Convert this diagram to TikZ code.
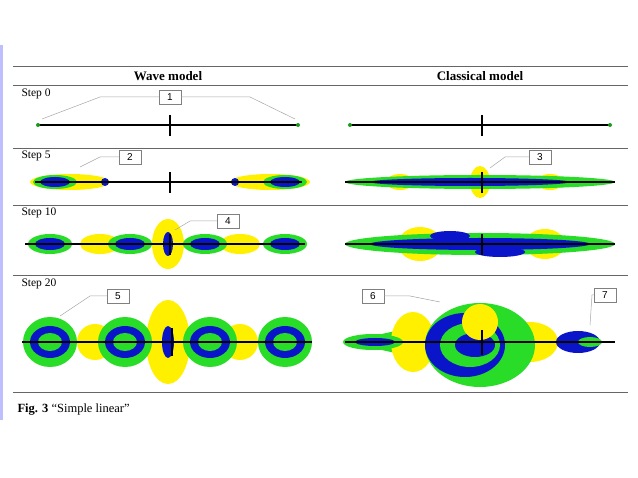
\documentclass[tikz,border=0pt]{standalone}
\usepackage{fontspec}
\setmainfont{Liberation Serif}
\newfontfamily\lab{Liberation Sans}
\definecolor{yel}{RGB}{255,240,0}
\definecolor{grn}{RGB}{40,220,40}
\definecolor{blu}{RGB}{10,20,200}
\begin{document}
\begin{tikzpicture}[x=1pt,y=-1pt,
  rule/.style={draw=black!60,line width=0.8pt},
  lbox/.style={draw=black!50,fill=white,inner sep=2pt,minimum width=22pt,minimum height=14pt,font=\lab\fontsize{10}{11}\selectfont},
  lead/.style={draw=black!35,line width=0.5pt},
  axis/.style={line width=1.2pt},
  stp/.style={anchor=west,font=\fontsize{11.5}{13}\selectfont},
  Y/.style={fill=yel},G/.style={fill=grn},B/.style={fill=blu}]
\useasboundingbox (0,0) rectangle (638,478);
\fill[blue!25] (0,45) rectangle (3,420);
\foreach \y in {66,85,148,205,275,392} \draw[rule] (13,\y) -- (628,\y);
\node[font=\bfseries\fontsize{13}{15}\selectfont] (hw) at (168,76) {Wave model};
\node[font=\bfseries\fontsize{13}{15}\selectfont] (hc) at (480,76) {Classical model};
\node[stp] (s0) at (18,94) {Step 0};
\node[stp] (s5) at (18,156) {Step 5};
\node[stp] (s10) at (18,213) {Step 10};
\node[stp] (s20) at (18,284) {Step 20};
\node[anchor=west,font=\fontsize{12.5}{14}\selectfont] (fig) at (14,410) {\textbf{Fig. 3} “Simple linear”};
% Step 0
\coordinate (a1) at (38,125); \coordinate (a2) at (298,125);
\coordinate (c1) at (350,125); \coordinate (c2) at (610,125);
\draw[axis] (a1) -- (a2); \draw[axis] (170,115) -- (170,136);
\draw[axis] (c1) -- (c2); \draw[axis] (482,115) -- (482,136);
\foreach \p in {a1,a2,c1,c2} \fill[grn!70!black] (\p) circle (2);
\node[lbox] (l1) at (170,97) {1};
\draw[lead] (l1.west) -- (100,97) -- (42,119);
\draw[lead] (l1.east) -- (250,97) -- (295,119);
% Step 5 wave
\fill[Y] (70,182) ellipse (40 and 8); \fill[Y] (270,182) ellipse (40 and 8);
\fill[G] (55,182) ellipse (22 and 7); \fill[G] (285,182) ellipse (22 and 7);
\fill[B] (55,182) ellipse (15 and 5); \fill[B] (285,182) ellipse (15 and 5);
\fill[B] (105,182) circle (4); \fill[B] (235,182) circle (4);
\draw[axis] (35,182) -- (302,182); \draw[axis] (170,172) -- (170,193);
\node[lbox] (l2) at (130,157) {2};
\draw[lead] (l2.west) -- (100,157) -- (80,167);
% Step 5 classical
\fill[Y] (480,182) ellipse (10 and 16);
\fill[Y] (400,182) ellipse (14 and 8); \fill[Y] (550,182) ellipse (14 and 8);
\fill[G] (480,182) ellipse (135 and 7);
\fill[B] (470,182) ellipse (100 and 4);
\draw[axis] (345,182) -- (615,182); \draw[axis] (482,172) -- (482,193);
\node[lbox] (l3) at (540,157) {3};
\draw[lead] (l3.west) -- (505,157) -- (490,168);
% Step 10 wave
\fill[Y] (168,244) ellipse (16 and 25);
\fill[Y] (100,244) ellipse (20 and 10); \fill[Y] (240,244) ellipse (20 and 10);
\foreach \x in {50,130,205,285} {\fill[G] (\x,244) ellipse (22 and 10); \fill[B] (\x,244) ellipse (15 and 6);}
\fill[B] (168,244) ellipse (5 and 12);
\draw[axis] (25,244) -- (305,244); \draw[axis] (170,234) -- (170,255); \draw[axis] (163,244) -- (177,244);
\node[lbox] (l4) at (228,221) {4};
\draw[lead] (l4.west) -- (190,221) -- (175,230);
% Step 10 classical
\fill[Y] (420,244) ellipse (22 and 17); \fill[Y] (545,244) ellipse (20 and 15);
\fill[G] (480,244) ellipse (135 and 11);
\fill[B] (480,244) ellipse (110 and 6);
\fill[B] (450,236) ellipse (20 and 5); \fill[B] (500,252) ellipse (25 and 5);
\draw[axis] (345,244) -- (615,244); \draw[axis] (482,234) -- (482,255);
% Step 20 wave
\fill[Y] (168,342) ellipse (22 and 42);
\fill[Y] (95,342) ellipse (18 and 18); \fill[Y] (240,342) ellipse (18 and 18);
\foreach \x in {50,125,210,285} {\fill[G] (\x,342) ellipse (27 and 25); \fill[B] (\x,342) ellipse (20 and 16); \fill[G] (\x,342) ellipse (12 and 9);}
\fill[B] (168,342) ellipse (6 and 16);
\draw[axis] (22,342) -- (312,342); \draw[axis] (172,328) -- (172,356); \draw[axis] (160,342) -- (184,342);
\node[lbox] (l5) at (118,296) {5};
\draw[lead] (l5.west) -- (90,296) -- (60,316);
% Step 20 classical
\fill[G] (345,342) -- (400,330) -- (400,354) -- cycle;
\fill[Y] (413,342) ellipse (22 and 30); \fill[Y] (530,342) ellipse (28 and 20);
\fill[Y] (482,333) ellipse (25 and 30);
\fill[G] (480,345) ellipse (55 and 42);
\fill[B] (465,345) ellipse (40 and 32); \fill[G] (470,345) ellipse (30 and 22); \fill[B] (475,345) ellipse (20 and 12);
\fill[Y] (480,322) ellipse (18 and 18);
\fill[G] (373,342) ellipse (30 and 8); \fill[B] (375,342) ellipse (20 and 4);
\fill[B] (578,342) ellipse (22 and 11); \fill[G] (590,342) ellipse (12 and 5);
\draw[axis] (345,342) -- (615,342); \draw[axis] (482,330) -- (482,355);
\node[lbox] (l6) at (373,296) {6};
\draw[lead] (l6.east) -- (410,296) -- (440,302);
\node[lbox] (l7) at (605,295) {7};
\draw[lead] (l7.west) -- (592,295) -- (590,325);
\end{tikzpicture}
\end{document}
